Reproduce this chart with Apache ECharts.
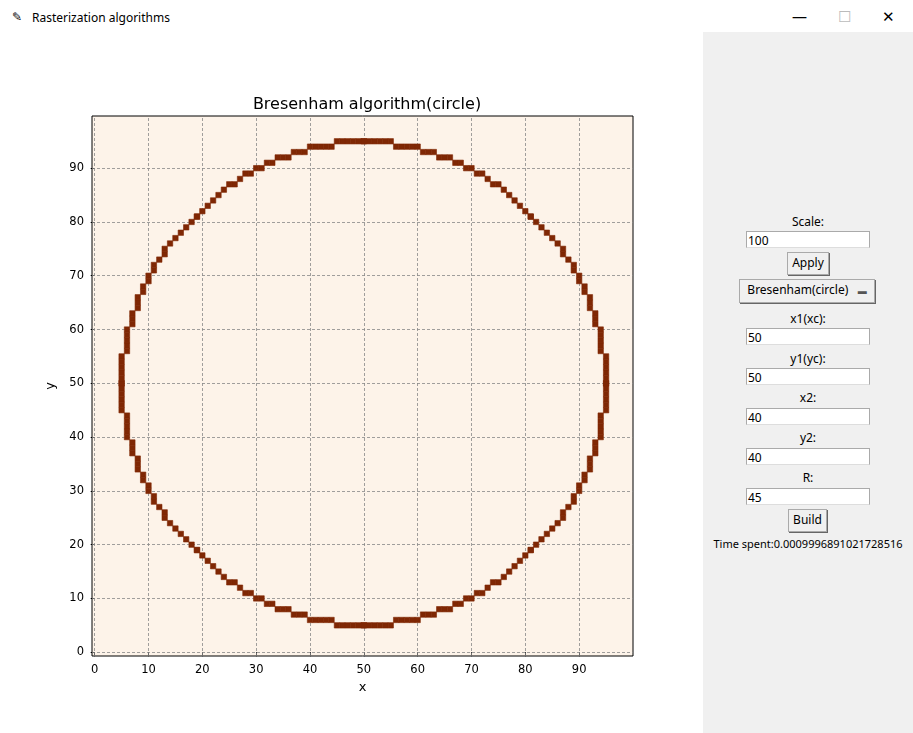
<!DOCTYPE html>
<html><head><meta charset="utf-8">
<script src="https://cdn.jsdelivr.net/npm/echarts@6/dist/echarts.min.js"></script>
<style>
body{margin:0;width:913px;height:733px;overflow:hidden;background:#fff;font-family:"Noto Sans",sans-serif;font-size:12px;position:relative}
#bar{position:absolute;left:0;top:0;width:913px;height:32px;background:#fff}
#bar .t{position:absolute;left:32px;top:9px;font-size:12px}
#bar .c{position:absolute;top:6px;font-size:15px;color:#000}
#side{position:absolute;left:703px;top:32px;width:210px;height:701px;background:#f0f0f0}
.l{position:absolute;width:210px;text-align:center;left:0;font-size:12px}
.e{position:absolute;left:43px;width:124px;height:17px;background:#fff;border:1px solid #aaa;border-bottom-color:#ddd;font-size:12px;line-height:17px;padding-left:1px;box-sizing:border-box}
.b{position:absolute;background:#f0f0f0;border:1px solid #aaa;box-shadow:1px 1px 0 #666;text-align:center;line-height:20px;font-size:12px}
#chart{position:absolute;left:0;top:32px;width:703px;height:701px}
</style></head><body>
<div id="bar"><span style="position:absolute;left:12px;top:8px;font-size:12px">✎</span><span class="t">Rasterization algorithms</span>
<span class="c" style="left:792px">—</span><span class="c" style="left:838px;color:#bbb">☐</span><span class="c" style="left:882px">✕</span></div>
<div id="chart"></div>
<div id="side">
<div class="l" style="top:181px">Scale:</div><div class="e" style="top:199px">100</div>
<div class="b" style="left:84px;top:220px;width:40px;height:21px">Apply</div>
<div class="b" style="left:36px;top:247px;width:134px;height:22px">Bresenham(circle) &nbsp;&nbsp;<span style="font-size:9px;color:#555">▬</span></div>
<div class="l" style="top:278px">x1(xc):</div><div class="e" style="top:296px">50</div>
<div class="l" style="top:318px">y1(yc):</div><div class="e" style="top:336px">50</div>
<div class="l" style="top:357px">x2:</div><div class="e" style="top:376px">40</div>
<div class="l" style="top:397px">y2:</div><div class="e" style="top:416px">40</div>
<div class="l" style="top:437px">R:</div><div class="e" style="top:456px">45</div>
<div class="b" style="left:85px;top:477px;width:37px;height:21px">Build</div>
<div class="l" style="top:504px;left:0px;font-size:11px">Time spent:0.0009996891021728516</div>
</div>
<script>
// Circle parameters and octant offsets (centre 50,50)
const centerX = 50, centerY = 50;
const octantDx = [0,1,2,3,4,5,6,7,8,9,10,11,12,13,14,15,16,17,18,19,20,21,22,23,24,25,26,27,28,29,30,31];
const octantDy = [45,45,45,45,45,45,44,44,44,44,44,43,43,43,42,42,42,41,41,40,40,39,39,38,37,37,36,35,34,33,32,31];
const tickValues = [0,10,20,30,40,50,60,70,80,90];

const cells = [];
octantDx.forEach((dx,i)=>{
  const dy = octantDy[i];
  [[dx,dy],[dy,dx],[-dx,dy],[-dy,dx],[dx,-dy],[dy,-dx],[-dx,-dy],[-dy,-dx]].forEach(p=>cells.push([centerX+p[0],centerY+p[1]]));
});
const chart = echarts.init(document.getElementById('chart'));
const axisCommon = {
  type:'value',
  axisLine:{show:false},
  axisTick:{show:true,length:4,lineStyle:{color:'#000'},customValues:tickValues},
  axisLabel:{color:'#000',fontSize:11.5,fontFamily:'DejaVu Sans',customValues:tickValues},
  splitLine:{show:false},
  nameLocation:'middle', nameTextStyle:{color:'#000',fontSize:13,fontFamily:'DejaVu Sans'}
};
const gridLines = tickValues.map(v=>({xAxis:v})).concat(tickValues.map(v=>({yAxis:v})));
chart.setOption({
  animation:false,
  title:{text:'Bresenham algorithm(circle)',left:362,top:60,textAlign:'center',textStyle:{fontSize:16,fontWeight:'normal',color:'#000',fontFamily:'DejaVu Sans'}},
  grid:{left:92,top:84,width:541,height:540,backgroundColor:'#fdf3e9',show:true,borderColor:'#000',borderWidth:1},
  xAxis:Object.assign({},axisCommon,{min:-0.5,max:100,name:'x',nameGap:25}),
  yAxis:Object.assign({},axisCommon,{min:-0.7,max:99.7,name:'y',nameGap:35}),
  series:[{type:'custom',data:cells,z:3,renderItem:(params,api)=>{
    const p0=api.coord([api.value(0)-0.5,api.value(1)+0.5]);
    const p1=api.coord([api.value(0)+0.5,api.value(1)-0.5]);
    return {type:'rect',shape:{x:p0[0],y:p0[1],width:p1[0]-p0[0],height:p1[1]-p0[1]},style:{fill:'#7f2704',stroke:'#7f2704',lineWidth:0.6}};
  },
  markLine:{silent:true,symbol:'none',label:{show:false},z:1,
    lineStyle:{color:'#888',type:[3,2],width:0.8},data:gridLines}}]
});
</script>
</body></html>
